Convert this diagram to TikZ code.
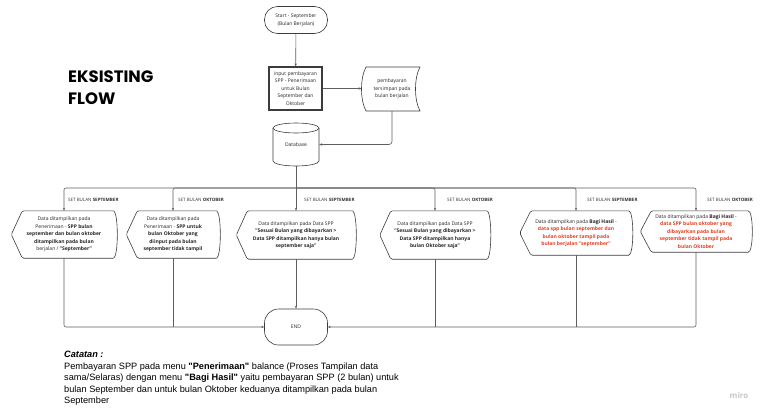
\documentclass[tikz,border=0pt]{standalone}
\usepackage{fontspec}
\setmainfont{Open Sans}
\newfontfamily\notefont{Liberation Sans}
\newfontfamily\titlefont{Poppins}
\usetikzlibrary{arrows.meta}
\definecolor{linec}{RGB}{95,95,95}
\definecolor{shapec}{RGB}{60,60,60}
\definecolor{redt}{RGB}{222,64,36}
\newcommand\rt[1]{\textcolor{redt}{\textbf{#1}}}
\newcommand\dispshape[1]{\draw[shapeline, rounded corners=1.5pt] ([xshift=11pt]#1.north west) -- ([xshift=-5pt]#1.north east) .. controls ([xshift=2pt]#1.north east) and ([xshift=2pt]#1.south east) .. ([xshift=-5pt]#1.south east) -- ([xshift=11pt]#1.south west) -- (#1.west) -- cycle;}
\begin{document}
\begin{tikzpicture}[x=1pt,y=-1pt,
  line/.style={draw=linec, line width=0.6pt},
  arr/.style={line, -{Stealth[length=3pt,width=2.4pt]}},
  shapeline/.style={draw=shapec, line width=0.6pt},
  txt/.style={font=\fontsize{5}{7.5}\selectfont, align=center, text=black!85, inner sep=0pt},
  lbl/.style={font=\fontsize{4.5}{5}\selectfont, anchor=west, text=black!80, inner sep=0pt},
  disp/.style={txt}]
\useasboundingbox[fill=white] (0,0) rectangle (768,418);

% title
\node[anchor=north west, font=\titlefont\bfseries\fontsize{16.5}{22}\selectfont, align=left, inner sep=0pt] (title) at (68,71) {EKSISTING\\FLOW};

% top part
\node[draw=shapec, line width=0.6pt, rounded corners=13pt, minimum width=63pt, minimum height=27pt, txt] (start) at (296,20) {Start - September\\(Bulan Berjalan)};
\node[draw=shapec, line width=1.2pt, minimum width=53pt, minimum height=43pt, txt] (inp) at (295.5,88.5) {input pembayaran\\SPP - Penerimaan\\untuk Bulan\\September dan\\Oktober};
\node[txt, minimum width=54pt, minimum height=44pt] (pay) at (392,89) {pembayaran\\tersimpan pada\\bulan berjalan};
\draw[shapeline] (366,67) -- (420,67) .. controls (414,78) and (414,100) .. (420,111) -- (366,111) .. controls (360,100) and (360,78) .. (366,67) -- cycle;
\coordinate (payin) at (361.5,88.5);
\node[txt, minimum width=46pt, minimum height=43pt] (db) at (296,144.5) {Database};
\draw[shapeline] (273,128) -- (273,161) arc[start angle=180, end angle=360, x radius=23pt, y radius=5pt] -- (319,128);
\draw[shapeline] (296,128) ellipse [x radius=23pt, y radius=5pt];

\draw[arr] (start) -- (inp);
\draw[arr] (inp.east) -- (payin);
\draw[arr, rounded corners=3pt] (pay.south) |- (db.east);

% display shapes
\node[disp, minimum width=105pt, minimum height=47pt] (s1) at (64,234.5) {Data ditampilkan pada\\Penerimaan - \textbf{SPP bulan}\\\textbf{september dan bulan oktober}\\\textbf{ditampilkan pada bulan}\\berjalan / \textbf{"September"}};
\node[disp, minimum width=93pt, minimum height=47pt] (s2) at (173,234.5) {Data ditampilkan pada\\Penerimaan - \textbf{SPP untuk}\\\textbf{bulan Oktober yang}\\\textbf{diinput pada bulan}\\\textbf{september tidak tampil}};
\node[disp, minimum width=119pt, minimum height=48pt] (s3) at (296,235) {Data ditampilkan pada Data SPP\\\textbf{"Sesuai Bulan yang dibayarkan >}\\\textbf{Data SPP ditampilkan hanya bulan}\\\textbf{september saja"}};
\node[disp, minimum width=110pt, minimum height=48pt] (s4) at (435,235) {Data ditampilkan pada Data SPP\\\textbf{"Sesuai Bulan yang dibayarkan >}\\\textbf{Data SPP ditampilkan hanya}\\\textbf{bulan Oktober saja"}};
\node[disp, minimum width=112pt, minimum height=44pt] (s5) at (576,233) {Data ditampilkan pada \textbf{Bagi Hasil} -\\\rt{data spp bulan september dan}\\\rt{bulan oktober tampil pada}\\\rt{bulan berjalan "september"}};
\node[disp, minimum width=111pt, minimum height=41pt] (s6) at (696,231.5) {Data ditampilkan pada \textbf{Bagi Hasil} -\\\rt{data SPP bulan oktober yang}\\\rt{dibayarkan pada bulan}\\\rt{september tidak tampil pada}\\\rt{bulan Oktober}};
\dispshape{s1}
\dispshape{s2}
\dispshape{s3}
\dispshape{s4}
\dispshape{s5}
\dispshape{s6}

% distribution bar
\coordinate (bc) at (296,188);
\draw[arr] (db.south) -- (s3.north);
\draw[arr, rounded corners=2pt] (bc) -| (s1.north);
\draw[arr, rounded corners=2pt] (bc) -| (s2.north);
\draw[arr, rounded corners=2pt] (bc) -| (s4.north);
\draw[arr, rounded corners=2pt] (bc) -| (s5.north);
\draw[arr, rounded corners=2pt] (bc) -| (s6.north);

\node[lbl] (l1) at (68,200) {SET BULAN \textbf{SEPTEMBER}};
\node[lbl] (l2) at (178,200) {SET BULAN \textbf{OKTOBER}};
\node[lbl] (l3) at (304,200) {SET BULAN \textbf{SEPTEMBER}};
\node[lbl] (l4) at (447,200) {SET BULAN \textbf{OKTOBER}};
\node[lbl] (l5) at (587,200) {SET BULAN \textbf{SEPTEMBER}};
\node[lbl] (l6) at (707,200) {SET BULAN \textbf{OKTOBER}};

% end
\node[draw=shapec, line width=0.6pt, rounded corners=14pt, minimum width=63pt, minimum height=36pt, txt] (endn) at (296,327) {END};
\draw[arr, rounded corners=2pt] (s1.south) |- (endn.west);
\draw[line] (s2.south) -- (s2.south |- endn.west);
\draw[arr] (s3.south) -- (endn.north);
\draw[arr, rounded corners=2pt] (s6.south) |- (endn.east);
\draw[line] (s4.south) -- (s4.south |- endn.east);
\draw[line] (s5.south) -- (s5.south |- endn.east);

% note
\node[anchor=north west, font=\notefont\fontsize{9.2}{11.5}\selectfont, align=left, inner sep=0pt] (note) at (64,351) {\textbf{\textit{Catatan :}}\\Pembayaran SPP pada menu \textbf{"Penerimaan"} balance (Proses Tampilan data\\sama/Selaras) dengan menu \textbf{"Bagi Hasil"} yaitu pembayaran SPP (2 bulan) untuk\\bulan September dan untuk bulan Oktober keduanya ditampilkan pada bulan\\September};

\node[font=\bfseries\fontsize{8}{8}\selectfont, text=black!22, inner sep=0pt] (miro) at (739,395) {miro};
\end{tikzpicture}
\end{document}
